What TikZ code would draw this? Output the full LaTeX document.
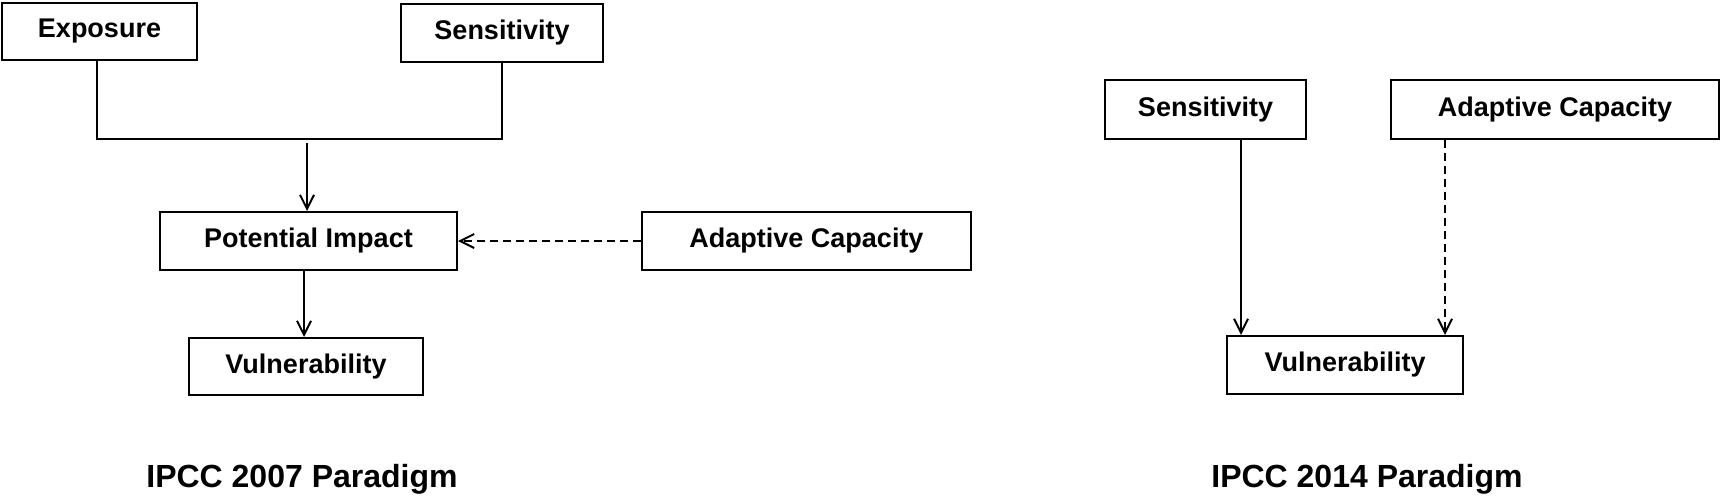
\documentclass[tikz,border=0pt]{standalone}
\usepackage{fontspec}
\setmainfont{Liberation Sans}
\usetikzlibrary{arrows.meta}
\begin{document}
\begin{tikzpicture}[x=1pt,y=-1pt,
  bx/.style={draw,line width=2pt,font=\fontsize{27}{30}\selectfont\bfseries,inner sep=0pt,anchor=north west},
  ln/.style={line width=1.8pt},
  ar/.style={ln,-{Straight Barb[length=14pt,width=14pt,line width=2pt]}},
  ttl/.style={font=\fontsize{32}{36}\selectfont\bfseries}]
\useasboundingbox (0,0) rectangle (1720,499);
\node[bx,minimum width=195pt,minimum height=57pt] (exp) at (1,2) {Exposure};
\node[bx,minimum width=202pt,minimum height=58pt] (sen) at (400,3) {Sensitivity};
\node[bx,minimum width=297pt,minimum height=58pt] (pi) at (159,211) {Potential Impact};
\node[bx,minimum width=329pt,minimum height=58pt] (ac) at (641,211) {Adaptive Capacity};
\node[bx,minimum width=234pt,minimum height=57pt] (vu) at (188,337) {Vulnerability};
\node[ttl] (t1) at (302,479) {IPCC 2007 Paradigm};
\coordinate (jl) at (97,139);
\coordinate (jr) at (502,139);
\coordinate (js) at (307,143);
\draw[ln] (exp.south -| jl) -- (jl) -- (jr) -- (sen.south -| jr);
\draw[ar] (js) -- (js |- pi.north);
\draw[ar] (pi.south -| 304,0) -- (vu.north -| 304,0);
\draw[ar,dashed,dash pattern=on 8pt off 5pt] (ac.west) -- (pi.east);
\node[bx,minimum width=201pt,minimum height=59pt] (sen2) at (1104,79) {Sensitivity};
\node[bx,minimum width=328pt,minimum height=59pt] (ac2) at (1390,79) {Adaptive Capacity};
\node[bx,minimum width=236pt,minimum height=58pt] (vu2) at (1226,335) {Vulnerability};
\node[ttl] (t2) at (1367,479) {IPCC 2014 Paradigm};
\draw[ar] (sen2.south -| 1241,0) -- (vu2.north -| 1241,0);
\draw[ar,dashed,dash pattern=on 8pt off 5pt] (ac2.south -| 1445,0) -- (vu2.north -| 1445,0);
\end{tikzpicture}
\end{document}
